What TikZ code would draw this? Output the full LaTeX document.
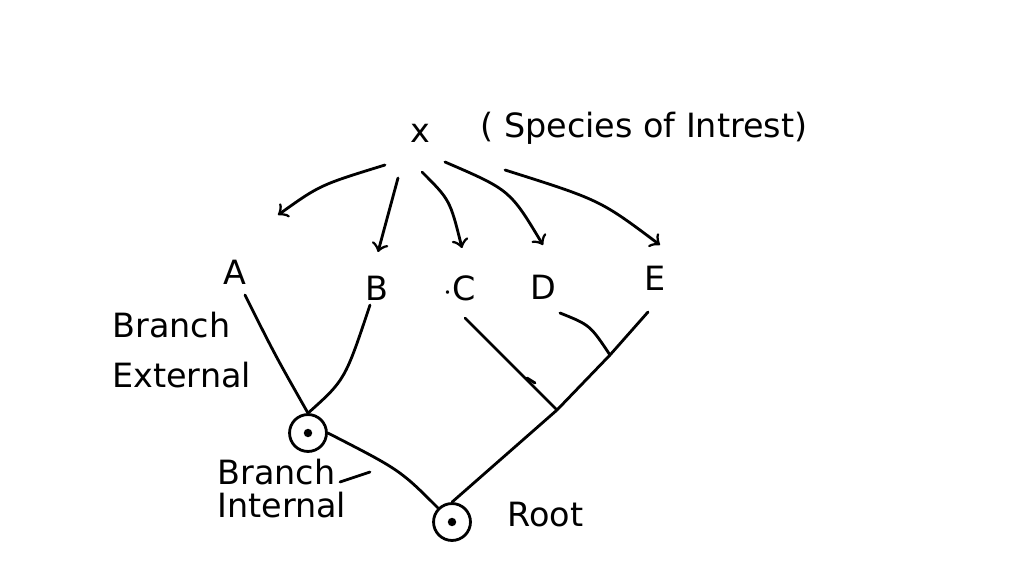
\documentclass[tikz,border=0pt]{standalone}
\usepackage{fontspec}
\setmainfont{DejaVu Sans}
\usetikzlibrary{positioning}
\tikzset{
  lbl/.style={font=\fontsize{9.5}{11}\selectfont},
  edge/.style={line width=0.8pt, line cap=round},
  pick/.style={edge,->},
  hub/.style={circle, draw, line width=0.8pt, minimum size=10.5pt, inner sep=0pt}
}
\begin{document}
\begin{tikzpicture}[x=0.01cm,y=-0.01cm]
\useasboundingbox (0,0) rectangle (1024,576);
% species of interest
\node[lbl] (x) at (420,133) {x};
\node[lbl,anchor=west] (xnote) at (468,128) {( Species of Intrest)};
% arrow ends
\coordinate (ta) at (278,215);
\coordinate (tb) at (378,252);
\coordinate (tc) at (462,248);
\coordinate (td) at (543,245);
\coordinate (te) at (660,245);
\draw[pick] (385,165) .. controls (320,185) .. (ta);
\draw[pick] (398,178) -- (tb);
\draw[pick] (422,172) .. controls (450,200) .. (tc);
\draw[pick] (445,162) .. controls (510,190) .. (td);
\draw[pick] (505,170) .. controls (600,200) .. (te);
% leaves
\node[lbl] (a) at (235,272) {A};
\node[lbl] (b) at (377,288) {B};
\node[lbl] (c) at (460,288) {$\cdot$C};
\node[lbl] (d) at (543,287) {D};
\node[lbl] (e) at (655,278) {E};
% internal nodes
\node[hub] (n1) at (308,433) {};
\fill (n1.center) circle (1.2pt);
\node[hub] (root) at (452,522) {};
\fill (root.center) circle (1.2pt);
\coordinate (cd) at (557,410);
\coordinate (de) at (610,355);
% branches
\draw[edge] (245,295) .. controls (275,355) .. (n1.north);
\draw[edge] (370,305) .. controls (345,380) .. (n1.north);
\draw[edge] (n1.east) .. controls (400,470) .. (root.north west);
\draw[edge] (648,312) -- (de) -- (cd) -- (root.north);
\draw[edge] (465,318) -- (cd);
\draw[edge] (560,313) .. controls (590,325) .. (de);
\draw[edge] (527,378) -- (535,383);
% labels
\node[lbl,anchor=west] (ext1) at (100,325) {Branch};
\node[lbl,anchor=west] (ext2) at (100,375) {External};
\node[lbl,anchor=west] (int1) at (205,472) {Branch};
\node[lbl,anchor=west] (int2) at (205,505) {Internal};
\draw[edge] (340,482) -- (370,472);
\node[lbl,anchor=west] (rootlbl) at (495,515) {Root};
\end{tikzpicture}
\end{document}
